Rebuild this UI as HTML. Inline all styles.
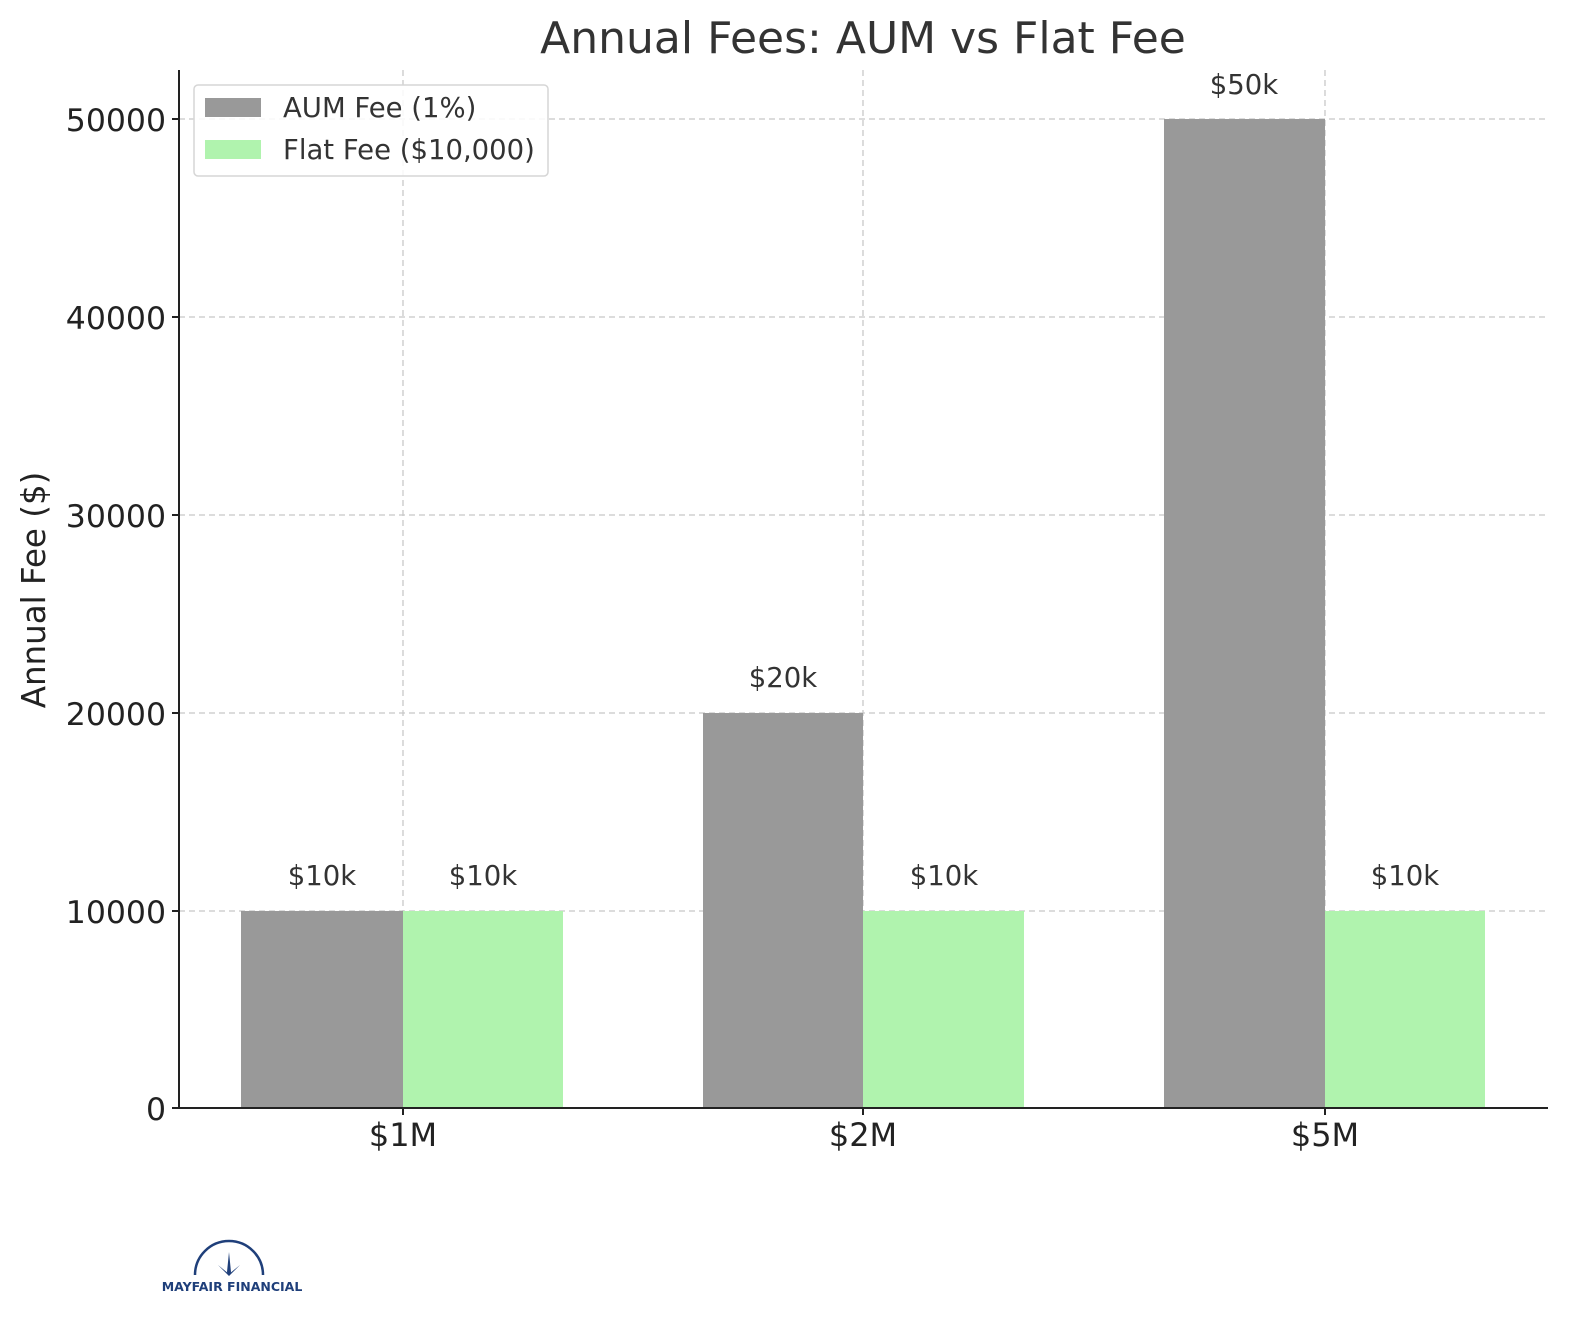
<!DOCTYPE html>
<html><head><meta charset="utf-8"><style>body{margin:0;background:#fff}svg{display:block}</style></head>
<body>
<svg width="1580" height="1330" xmlns="http://www.w3.org/2000/svg" font-family="DejaVu Sans, Liberation Sans, sans-serif">
<rect width="1580" height="1330" fill="#fff"/>
<text x="863" y="53" font-size="44" fill="#333" text-anchor="middle">Annual Fees: AUM vs Flat Fee</text>
<g stroke="#c8c8c8" stroke-width="1.3" stroke-dasharray="6,4">
<line x1="403" y1="70" x2="403" y2="1108"/><line x1="863" y1="70" x2="863" y2="1108"/><line x1="1325" y1="70" x2="1325" y2="1108"/>
<line x1="179" y1="119" x2="1548" y2="119"/><line x1="179" y1="317" x2="1548" y2="317"/><line x1="179" y1="515" x2="1548" y2="515"/><line x1="179" y1="713" x2="1548" y2="713"/><line x1="179" y1="911" x2="1548" y2="911"/>
</g>
<g fill="#999">
<rect x="241" y="911" width="162" height="197"/><rect x="703" y="713" width="160" height="395"/><rect x="1164" y="119" width="161" height="989"/>
</g>
<g fill="#b0f3ae">
<rect x="403" y="911" width="160" height="197"/><rect x="863" y="911" width="161" height="197"/><rect x="1325" y="911" width="160" height="197"/>
</g>
<g font-size="27.5" fill="#333" text-anchor="middle">
<text x="322" y="885">$10k</text><text x="483" y="885">$10k</text><text x="783" y="687">$20k</text><text x="944" y="885">$10k</text><text x="1244" y="94">$50k</text><text x="1405" y="885">$10k</text>
</g>
<g stroke="#222" stroke-width="2">
<line x1="179" y1="70" x2="179" y2="1109"/><line x1="178" y1="1108" x2="1548" y2="1108"/>
<line x1="172" y1="1108" x2="179" y2="1108"/><line x1="172" y1="911" x2="179" y2="911"/><line x1="172" y1="713" x2="179" y2="713"/><line x1="172" y1="515" x2="179" y2="515"/><line x1="172" y1="317" x2="179" y2="317"/><line x1="172" y1="119" x2="179" y2="119"/>
<line x1="403" y1="1108" x2="403" y2="1115"/><line x1="863" y1="1108" x2="863" y2="1115"/><line x1="1325" y1="1108" x2="1325" y2="1115"/>
</g>
<g font-size="31.5" fill="#222" text-anchor="end">
<text x="166" y="1120">0</text><text x="166" y="923">10000</text><text x="166" y="725">20000</text><text x="166" y="527">30000</text><text x="166" y="329">40000</text><text x="166" y="131">50000</text>
</g>
<g font-size="32" fill="#222" text-anchor="middle">
<text x="403" y="1146">$1M</text><text x="863" y="1146">$2M</text><text x="1325" y="1146">$5M</text>
</g>
<text transform="translate(45,590) rotate(-90)" font-size="32.5" fill="#222" text-anchor="middle">Annual Fee ($)</text>
<rect x="194" y="85" width="354" height="91" rx="4" fill="#fff" fill-opacity="0.85" stroke="#d6d6d6" stroke-width="1.5"/>
<rect x="205" y="98" width="56" height="19" fill="#999"/>
<rect x="205" y="140" width="56" height="19" fill="#b0f3ae"/>
<g font-size="27.5" fill="#333"><text x="283" y="117">AUM Fee (1%)</text><text x="283" y="159">Flat Fee ($10,000)</text></g>
<path d="M195,1275 A34,34 0 0 1 263,1275" fill="none" stroke="#1f3f7a" stroke-width="2.5"/>
<path d="M229,1252 L231,1272 L229,1276 L227,1272 Z M218,1265 L229,1274 L240,1265 L229,1276 Z" fill="#1f3f7a"/>
<text x="232" y="1291" font-size="12.5" font-weight="bold" fill="#1f3f7a" text-anchor="middle">MAYFAIR FINANCIAL</text>
</svg>
</body></html>
